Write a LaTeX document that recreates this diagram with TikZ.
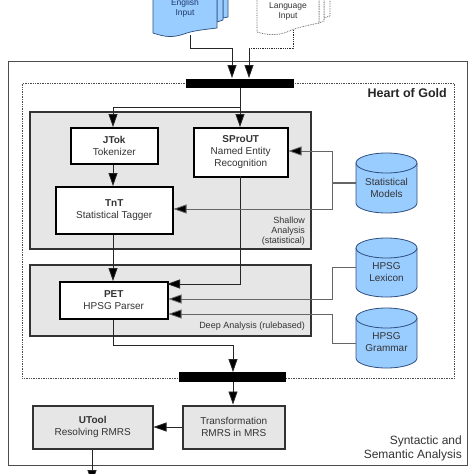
\documentclass[tikz,border=0pt]{standalone}
\usepackage{fontspec}
\setmainfont{Liberation Sans}
\usetikzlibrary{arrows.meta,calc}
\definecolor{lblue}{HTML}{99CCFF}
\definecolor{lgray}{HTML}{E6E6E6}
\definecolor{txt}{HTML}{333333}
\definecolor{doctxt}{HTML}{1F3A6E}
\definecolor{dbline}{HTML}{2F4F7F}
\newcommand{\cylbody}[2]{% top, bottom
  \filldraw[draw=dbline,line width=0.8pt,fill=lblue] (356,#1+10) arc[x radius=30.5,y radius=-10,start angle=180,end angle=0] -- (417,#2-10) arc[x radius=30.5,y radius=-10,start angle=0,end angle=-180] -- cycle;
  \draw[draw=dbline,line width=0.8pt] (356,#1+10) arc[x radius=30.5,y radius=-10,start angle=180,end angle=360];
}
\tikzset{
  x=1pt,y=-1pt,
  box/.style={draw=black,line width=1.5pt,fill=white,align=center,text=txt,font=\fontsize{10}{12}\selectfont,inner sep=0pt,anchor=north west},
  graybox/.style={draw=black!80,line width=1.5pt,fill=lgray,anchor=north west,inner sep=0pt},
  bar/.style={fill=black,draw=none,inner sep=0pt,anchor=north west},
  conn/.style={line width=0.8pt,draw=black!85},
  arr/.style={conn,-{Triangle[length=13pt,width=9pt,fill=black]}},
  feed/.style={line width=0.8pt,draw=black!60},
  feedarr/.style={feed,-{Triangle[length=13pt,width=9pt,fill=black]}},
  db/.style={align=center,text=txt,font=\fontsize{10}{12}\selectfont,inner sep=0pt,minimum width=61pt},
  lab/.style={align=right,text=txt,font=\fontsize{9}{10}\selectfont,inner sep=0pt,anchor=south east},
  doclab/.style={align=center,inner sep=0pt,font=\fontsize{8.5}{9.5}\selectfont},
}
\begin{document}
\begin{tikzpicture}
\useasboundingbox (0,0) rectangle (474,474);
\clip (0,0) rectangle (474,474);
\fill[white] (0,0) rectangle (474,474);
% frames
\node[draw=black!70,line width=0.9pt,fill=white,anchor=north west,inner sep=0pt,minimum width=459pt,minimum height=404pt] (outer) at (8,61) {};
\node[draw=black!70,densely dotted,line width=0.7pt,anchor=north west,inner sep=0pt,minimum width=432pt,minimum height=295pt] (heart) at (22,83) {};
% documents
\begin{scope}[draw=dbline,line width=0.7pt,fill=lblue]
\filldraw (176,-5) -- (228,-5) -- (228,17) -- (223,18) -- (223,-5) -- cycle;
\filldraw (170,-5) -- (223,-5) -- (223,20) -- (217,22) -- (217,-5) -- cycle;
\filldraw (153,-5) -- (217,-5) -- (217,28) .. controls (200,30) and (192,31) .. (184,34) .. controls (172,38) and (165,37) .. (153,33) -- cycle;
\end{scope}
\begin{scope}[draw=black!70,densely dotted,line width=0.7pt,fill=white]
\filldraw (275,-5) -- (330,-5) -- (330,16) -- (324,18) -- (324,-5) -- cycle;
\filldraw (270,-5) -- (324,-5) -- (324,21) -- (319,23) -- (319,-5) -- cycle;
\filldraw (257,-5) -- (319,-5) -- (319,23) .. controls (305,26) and (295,28) .. (287,32) .. controls (275,36) and (268,35) .. (257,32) -- cycle;
\end{scope}
\node[doclab,text=doctxt] (english) at (185,8.5) {English\\Input};
\node[doclab,text=txt] (language) at (288,11.5) {Language\\Input};
\coordinate (engout) at (190,35);
\coordinate (langout) at (293,30);
% groups
\node[graybox,minimum width=281pt,minimum height=137pt] (shallow) at (29,111) {};
\node[graybox,minimum width=281pt,minimum height=71pt] (deep) at (29,264) {};
% bars
\node[bar,minimum width=108pt,minimum height=9pt] (bar1) at (186,79) {};
\node[bar,minimum width=107pt,minimum height=10pt] (bar2) at (179,372) {};
% boxes
\node[box,minimum width=87pt,minimum height=36pt] (jtok) at (70,127) {\textbf{JTok}\\Tokenizer};
\node[box,minimum width=94pt,minimum height=49pt] (sprout) at (193,127) {\textbf{SProUT}\\Named Entity\\Recognition};
\node[box,minimum width=117pt,minimum height=47pt] (tnt) at (55,186) {\textbf{TnT}\\Statistical Tagger};
\node[box,minimum width=108pt,minimum height=37pt] (pet) at (59,281) {\textbf{PET}\\HPSG Parser};
\node[box,fill=lgray,draw=black!80,minimum width=120pt,minimum height=43pt] (utool) at (32,405) {\textbf{UTool}\\Resolving RMRS};
\node[box,fill=lgray,draw=black!80,minimum width=102pt,minimum height=43pt] (trans) at (182,405) {Transformation\\RMRS in MRS};
% cylinders
\cylbody{153}{213}
\cylbody{238}{297}
\cylbody{308}{368}
\node[db] (stat) at (386.5,187.5) {Statistical\\Models};
\node[db] (lex) at (386.5,272) {HPSG\\Lexicon};
\node[db] (gram) at (386.5,342.5) {HPSG\\Grammar};
% junctions
\coordinate (j0) at (113,107);
\coordinate (j1) at (240,107);
\coordinate (sp) at (240,176);
\coordinate (sp2) at (240,284);
\coordinate (petin) at (167,284);
\coordinate (s1) at (332,151);
\coordinate (s2) at (332,209);
\coordinate (s3) at (332,183);
\coordinate (l0) at (332,267);
\coordinate (l1) at (332,299);
\coordinate (g0) at (332,343);
\coordinate (g1) at (332,314);
\coordinate (exit) at (92,483);
% connectors
\draw[conn] (engout) |- (232,48) coordinate (e1);
\draw[arr] (e1) -- (232,78);
\draw[conn,densely dotted] (langout) |- (249,48) coordinate (e2);
\draw[arr] (e2) -- (249,78);
\draw[conn] (bar1.south -| j1) -- (j1) -- (j0);
\draw[arr] (j0) -- (jtok.north -| j0);
\draw[arr] (j1) -- (sprout.north -| j1);
\draw[arr] (jtok.south -| j0) -- (tnt.north -| j0);
\draw[arr] (tnt.south -| j0) -- (pet.north -| j0);
\draw[arr] (sp) -- (sp2) -- (petin);
\draw[feed,line width=1.1pt] (stat.west |- s3) -- (s3);
\draw[feedarr] (s3) -- (s1) -- (sprout.east |- s1);
\draw[feedarr] (s3) -- (s2) -- (tnt.east |- s2);
\draw[feedarr] (lex.west |- l0) -- (l0) -- (l1) -- (pet.east |- l1);
\draw[feedarr] (gram.west |- g0) -- (g0) -- (g1) -- (pet.east |- g1);
\draw[arr] (pet.south -| j0) |- (233,345) -- (233,372);
\draw[arr] (233,382) -- (233,404.5);
\draw[arr] (trans.west |- 0,427) -- (utool.east |- 0,427);
\draw[arr] (utool.south -| exit) -- (exit);
% labels
\node[anchor=base east,inner sep=0pt,font=\bfseries\fontsize{12.5}{14}\selectfont,text=black!85] (hog) at (447,97) {Heart of Gold};
\node[lab] (l_shallow) at (305,246) {Shallow\\Analysis\\(statistical)};
\node[lab] (l_deep) at (305,331) {Deep Analysis (rulebased)};
\node[align=right,anchor=south east,inner sep=0pt,text=txt,font=\fontsize{12}{14}\selectfont] (l_syn) at (462,461) {Syntactic and\\Semantic Analysis};
\end{tikzpicture}
\end{document}
